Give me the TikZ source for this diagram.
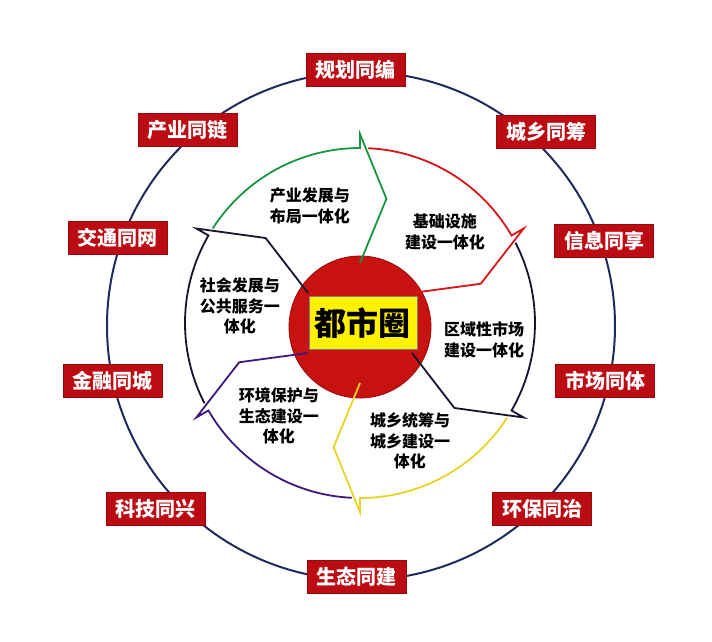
\documentclass[tikz,border=0pt]{standalone}
\usepackage{fontspec}
\newfontfamily\cjk{Noto Sans CJK SC}
\definecolor{hongbox}{RGB}{186,12,18}
\definecolor{hongbian}{RGB}{150,8,12}
\definecolor{quanhong}{RGB}{200,18,16}
\definecolor{huanlan}{RGB}{30,44,92}
\definecolor{lvse}{RGB}{24,150,64}
\definecolor{hongse}{RGB}{214,22,24}
\definecolor{heise}{RGB}{22,20,48}
\definecolor{huangse}{RGB}{232,212,40}
\definecolor{zise}{RGB}{64,24,124}
\tikzset{
  tongbox/.style = {rectangle, draw=hongbian, line width=0.8pt, fill=hongbox, text=white, minimum width=99pt, minimum height=33pt, inner sep=0, font=\cjk\bfseries\fontsize{20}{20}\selectfont},
  hexin/.style   = {rectangle, draw=black!50, line width=0.6pt, fill=yellow, minimum width=108pt, minimum height=53pt, inner sep=0, font=\cjk\bfseries\fontsize{32}{32}\selectfont},
  shuo/.style    = {align=center, inner sep=0, font=\cjk\bfseries\fontsize{16}{20.5}\selectfont},
  huan/.style    = {draw=huanlan, line width=2pt},
  fen/.style     = {line width=1.8pt, line join=miter}
}
\begin{document}
\begin{tikzpicture}[x=1pt,y=1pt]
  \useasboundingbox (-360,-319) rectangle (352,323);
  % outer ring
  \draw[huan] (1,-3) circle[radius=254];
  \node[tongbox] (ghtb) at (-4, 253) {规划同编};
  \node[tongbox] (cxtc) at (186, 191) {城乡同筹};
  \node[tongbox] (cytl) at (-172,193) {产业同链};
  \node[tongbox] (xxtx) at (244, 82)  {信息同享};
  \node[tongbox] (jttw) at (-242, 85) {交通同网};
  \node[tongbox] (sctt) at (245,-58)  {市场同体};
  \node[tongbox] (jrtc) at (-247,-58) {金融同城};
  \node[tongbox] (hbtz) at (182,-186) {环保同治};
  \node[tongbox] (kjtx) at (-204,-186){科技同兴};
  \node[tongbox] (sttj) at (-3,-254)  {生态同建};
  % centre disc
  \fill[quanhong, draw=hongbian, line width=0.8pt] (0,-4) circle[radius=71];
  % inner ring of arrows
  \draw[fen, draw=lvse]    (147.3:175) arc[start angle=147.3, end angle=90,  radius=175] -- (90:189)  -- (78:127)   -- (90:60);
  \draw[fen, draw=hongse]  (87.3:175)  arc[start angle=87.3,  end angle=30,  radius=175] -- (30:189)  -- (18:127)   -- (30:60);
  \draw[fen, draw=heise]   (27.3:175)  arc[start angle=27.3,  end angle=-30, radius=175] -- (-30:189) -- (-42:127)  -- (-30:60);
  \draw[fen, draw=huangse] (-32.7:175) arc[start angle=-32.7, end angle=-90, radius=175] -- (-90:189) -- (-102:127) -- (-90:60);
  \draw[fen, draw=zise]    (-92.7:175) arc[start angle=-92.7, end angle=-150,radius=175] -- (-150:189)-- (-162:127) -- (-150:60);
  \draw[fen, draw=heise]   (207.3:175) arc[start angle=207.3, end angle=150, radius=175] -- (150:189) -- (138:127)  -- (150:60);
  \node[hexin] (dsq) at (3,0) {都市圈};
  \node[shuo] (cyfz) at (-50,117) {产业发展与\\布局一体化};
  \node[shuo] (jcss) at (85,91)   {基础设施\\建设一体化};
  \node[shuo] (qysc) at (124,-17) {区域性市场\\建设一体化};
  \node[shuo] (cxtc2) at (50,-118) {城乡统筹与\\城乡建设一\\体化};
  \node[shuo] (hjbh) at (-81,-93) {环境保护与\\生态建设一\\体化};
  \node[shuo] (shfz) at (-120,17) {社会发展与\\公共服务一\\体化};
\end{tikzpicture}
\end{document}
